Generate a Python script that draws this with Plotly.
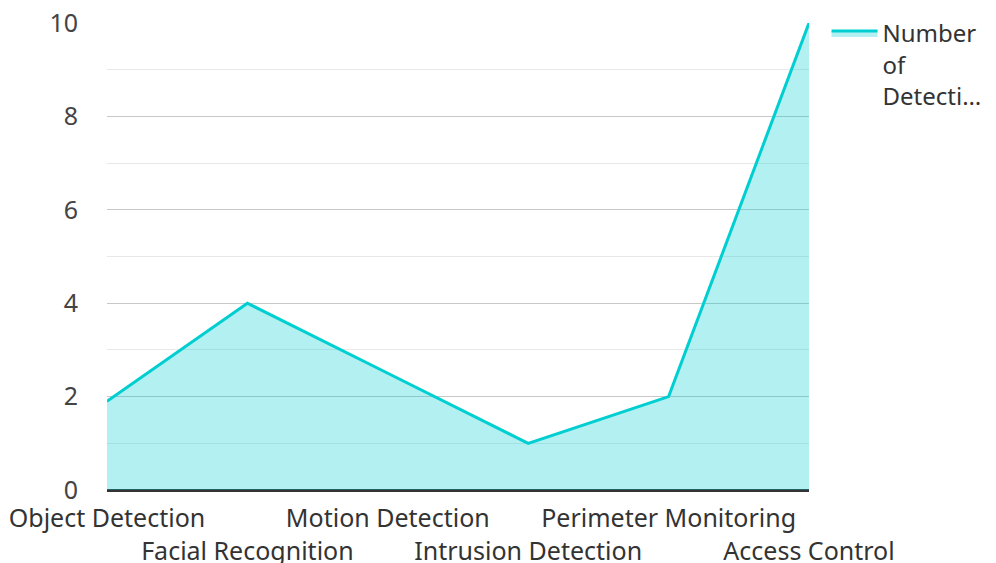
import plotly.graph_objects as go

categories = ["Object Detection", "Facial Recognition", "Motion Detection",
              "Intrusion Detection", "Perimeter Monitoring", "Access Control"]
detections = [1.9, 4, 2.5, 1, 2, 10]
series_name = "Number of Detections"
legend_label = "Number<br>of<br>Detecti…"

tick_text = [c if i % 2 == 0 else "<br>" + c for i, c in enumerate(categories)]

fig = go.Figure()
fig.add_trace(go.Scatter(
    x=categories, y=detections, name=legend_label,
    mode="lines", fill="tozeroy",
    line=dict(color="#00CED1", width=3),
    fillcolor="rgba(0,206,209,0.3)",
))

fig.update_layout(
    width=988, height=555,
    margin=dict(l=99, r=187, t=15, b=73, autoexpand=False),
    plot_bgcolor="white", paper_bgcolor="white",
    font=dict(family="Noto Sans, Open Sans, sans-serif", size=25, color="#444"),
    showlegend=True,
    legend=dict(x=1.025, y=1.026, xanchor="left", yanchor="top", itemwidth=46,
                valign="top", borderwidth=0,
                font=dict(size=24, color="#333"), bgcolor="rgba(0,0,0,0)"),
    xaxis=dict(
        tickmode="array", tickvals=categories, ticktext=tick_text,
        range=[0, 5], showgrid=False, showline=False, zeroline=False,
        ticks="outside", ticklen=6, tickcolor="rgba(0,0,0,0)", tickangle=0, automargin=False,
        ticklabeloverflow="allow",
        tickfont=dict(size=25, color="#333"),
    ),
    yaxis=dict(
        range=[0, 10], dtick=2, showgrid=True, gridcolor="#c8c8c8", gridwidth=1,
        minor=dict(dtick=1, showgrid=True, gridcolor="#e8e8e8", gridwidth=1),
        zeroline=True, zerolinecolor="#333", zerolinewidth=3,
        showline=False, ticks="outside", ticklen=23, tickcolor="rgba(0,0,0,0)",
        automargin=False, ticklabeloverflow="allow",
        tickfont=dict(size=25, color="#444"),
    ),
)

fig.write_html("out.html")
